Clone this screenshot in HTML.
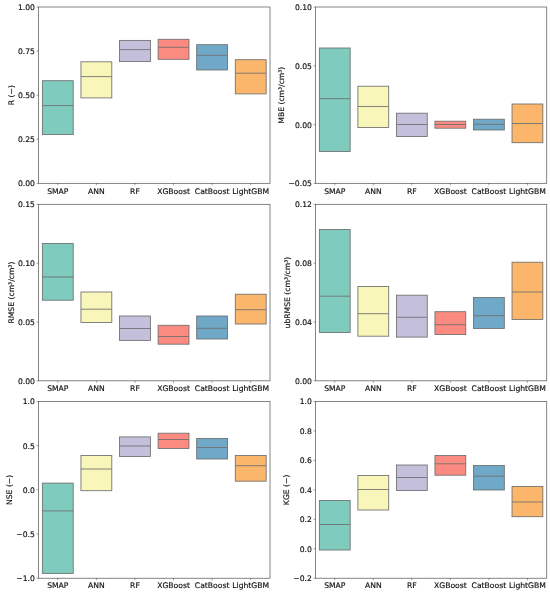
<!DOCTYPE html>
<html lang="en"><head><meta charset="utf-8"><title>Model comparison box plots</title>
<style>
html,body{margin:0;padding:0;background:#fff;}
body{width:550px;height:593px;overflow:hidden;}
svg{display:block;}
text{white-space:pre;stroke:#111;stroke-width:0.16px;}
</style></head><body>
<svg width="550" height="593" viewBox="0 0 550 593" font-family='"DejaVu Sans", "Liberation Sans", sans-serif' font-size="7.65" fill="#111">
<rect width="550" height="593" fill="#fff" stroke="none"/>
<g>
<rect x="42.36" y="80.70" width="30.87" height="53.90" fill="#7fcbbd" stroke="#6e6e6e" stroke-width="0.85"/>
<line x1="42.36" x2="73.23" y1="105.60" y2="105.60" stroke="#6e6e6e" stroke-width="0.85"/>
<rect x="80.94" y="61.80" width="30.87" height="36.10" fill="#f8f6b8" stroke="#6e6e6e" stroke-width="0.85"/>
<line x1="80.94" x2="111.81" y1="76.60" y2="76.60" stroke="#6e6e6e" stroke-width="0.85"/>
<rect x="119.53" y="40.40" width="30.87" height="21.20" fill="#c4c0db" stroke="#6e6e6e" stroke-width="0.85"/>
<line x1="119.53" x2="150.39" y1="49.60" y2="49.60" stroke="#6e6e6e" stroke-width="0.85"/>
<rect x="158.11" y="39.30" width="30.87" height="20.00" fill="#fb8b80" stroke="#6e6e6e" stroke-width="0.85"/>
<line x1="158.11" x2="188.98" y1="47.30" y2="47.30" stroke="#6e6e6e" stroke-width="0.85"/>
<rect x="196.69" y="44.70" width="30.87" height="25.30" fill="#70a9c7" stroke="#6e6e6e" stroke-width="0.85"/>
<line x1="196.69" x2="227.56" y1="55.30" y2="55.30" stroke="#6e6e6e" stroke-width="0.85"/>
<rect x="235.28" y="59.70" width="30.87" height="34.20" fill="#fbb66c" stroke="#6e6e6e" stroke-width="0.85"/>
<line x1="235.28" x2="266.14" y1="73.20" y2="73.20" stroke="#6e6e6e" stroke-width="0.85"/>
<rect x="38.50" y="7.00" width="231.50" height="176.35" fill="none" stroke="#000" stroke-opacity="0.6" stroke-width="0.8"/>
<line x1="57.79" x2="57.79" y1="183.35" y2="185.35" stroke="#000" stroke-opacity="0.6" stroke-width="0.6"/>
<text x="57.79" y="193.60" text-anchor="middle">SMAP</text>
<line x1="96.38" x2="96.38" y1="183.35" y2="185.35" stroke="#000" stroke-opacity="0.6" stroke-width="0.6"/>
<text x="96.38" y="193.60" text-anchor="middle">ANN</text>
<line x1="134.96" x2="134.96" y1="183.35" y2="185.35" stroke="#000" stroke-opacity="0.6" stroke-width="0.6"/>
<text x="134.96" y="193.60" text-anchor="middle">RF</text>
<line x1="173.54" x2="173.54" y1="183.35" y2="185.35" stroke="#000" stroke-opacity="0.6" stroke-width="0.6"/>
<text x="173.54" y="193.60" text-anchor="middle">XGBoost</text>
<line x1="212.12" x2="212.12" y1="183.35" y2="185.35" stroke="#000" stroke-opacity="0.6" stroke-width="0.6"/>
<text x="212.12" y="193.60" text-anchor="middle">CatBoost</text>
<line x1="250.71" x2="250.71" y1="183.35" y2="185.35" stroke="#000" stroke-opacity="0.6" stroke-width="0.6"/>
<text x="250.71" y="193.60" text-anchor="middle">LightGBM</text>
<line x1="36.50" x2="38.50" y1="183.35" y2="183.35" stroke="#000" stroke-opacity="0.6" stroke-width="0.6"/>
<text x="34.90" y="186.30" text-anchor="end">0.00</text>
<line x1="36.50" x2="38.50" y1="139.26" y2="139.26" stroke="#000" stroke-opacity="0.6" stroke-width="0.6"/>
<text x="34.90" y="142.21" text-anchor="end">0.25</text>
<line x1="36.50" x2="38.50" y1="95.17" y2="95.17" stroke="#000" stroke-opacity="0.6" stroke-width="0.6"/>
<text x="34.90" y="98.12" text-anchor="end">0.50</text>
<line x1="36.50" x2="38.50" y1="51.09" y2="51.09" stroke="#000" stroke-opacity="0.6" stroke-width="0.6"/>
<text x="34.90" y="54.04" text-anchor="end">0.75</text>
<line x1="36.50" x2="38.50" y1="7.00" y2="7.00" stroke="#000" stroke-opacity="0.6" stroke-width="0.6"/>
<text x="34.90" y="9.95" text-anchor="end">1.00</text>
<text transform="translate(13.80,95.17) rotate(-90)" text-anchor="middle">R (−)</text>
</g>
<g>
<rect x="319.35" y="48.00" width="30.83" height="103.50" fill="#7fcbbd" stroke="#6e6e6e" stroke-width="0.85"/>
<line x1="319.35" x2="350.18" y1="98.70" y2="98.70" stroke="#6e6e6e" stroke-width="0.85"/>
<rect x="357.89" y="86.20" width="30.83" height="41.30" fill="#f8f6b8" stroke="#6e6e6e" stroke-width="0.85"/>
<line x1="357.89" x2="388.71" y1="106.50" y2="106.50" stroke="#6e6e6e" stroke-width="0.85"/>
<rect x="396.42" y="113.20" width="30.83" height="23.30" fill="#c4c0db" stroke="#6e6e6e" stroke-width="0.85"/>
<line x1="396.42" x2="427.25" y1="124.50" y2="124.50" stroke="#6e6e6e" stroke-width="0.85"/>
<rect x="434.95" y="121.20" width="30.83" height="7.00" fill="#fb8b80" stroke="#6e6e6e" stroke-width="0.85"/>
<line x1="434.95" x2="465.78" y1="124.50" y2="124.50" stroke="#6e6e6e" stroke-width="0.85"/>
<rect x="473.49" y="119.20" width="30.83" height="10.80" fill="#70a9c7" stroke="#6e6e6e" stroke-width="0.85"/>
<line x1="473.49" x2="504.31" y1="124.30" y2="124.30" stroke="#6e6e6e" stroke-width="0.85"/>
<rect x="512.02" y="104.00" width="30.83" height="38.70" fill="#fbb66c" stroke="#6e6e6e" stroke-width="0.85"/>
<line x1="512.02" x2="542.85" y1="123.50" y2="123.50" stroke="#6e6e6e" stroke-width="0.85"/>
<rect x="315.50" y="7.00" width="231.20" height="176.35" fill="none" stroke="#000" stroke-opacity="0.6" stroke-width="0.8"/>
<line x1="334.77" x2="334.77" y1="183.35" y2="185.35" stroke="#000" stroke-opacity="0.6" stroke-width="0.6"/>
<text x="334.77" y="193.60" text-anchor="middle">SMAP</text>
<line x1="373.30" x2="373.30" y1="183.35" y2="185.35" stroke="#000" stroke-opacity="0.6" stroke-width="0.6"/>
<text x="373.30" y="193.60" text-anchor="middle">ANN</text>
<line x1="411.83" x2="411.83" y1="183.35" y2="185.35" stroke="#000" stroke-opacity="0.6" stroke-width="0.6"/>
<text x="411.83" y="193.60" text-anchor="middle">RF</text>
<line x1="450.37" x2="450.37" y1="183.35" y2="185.35" stroke="#000" stroke-opacity="0.6" stroke-width="0.6"/>
<text x="450.37" y="193.60" text-anchor="middle">XGBoost</text>
<line x1="488.90" x2="488.90" y1="183.35" y2="185.35" stroke="#000" stroke-opacity="0.6" stroke-width="0.6"/>
<text x="488.90" y="193.60" text-anchor="middle">CatBoost</text>
<line x1="527.43" x2="527.43" y1="183.35" y2="185.35" stroke="#000" stroke-opacity="0.6" stroke-width="0.6"/>
<text x="527.43" y="193.60" text-anchor="middle">LightGBM</text>
<line x1="313.50" x2="315.50" y1="183.35" y2="183.35" stroke="#000" stroke-opacity="0.6" stroke-width="0.6"/>
<text x="311.90" y="186.30" text-anchor="end">−0.05</text>
<line x1="313.50" x2="315.50" y1="124.57" y2="124.57" stroke="#000" stroke-opacity="0.6" stroke-width="0.6"/>
<text x="311.90" y="127.52" text-anchor="end">0.00</text>
<line x1="313.50" x2="315.50" y1="65.78" y2="65.78" stroke="#000" stroke-opacity="0.6" stroke-width="0.6"/>
<text x="311.90" y="68.73" text-anchor="end">0.05</text>
<line x1="313.50" x2="315.50" y1="7.00" y2="7.00" stroke="#000" stroke-opacity="0.6" stroke-width="0.6"/>
<text x="311.90" y="9.95" text-anchor="end">0.10</text>
<text transform="translate(284.30,95.17) rotate(-90)" text-anchor="middle">MBE (cm³/cm³)</text>
</g>
<g>
<rect x="42.36" y="243.50" width="30.87" height="56.70" fill="#7fcbbd" stroke="#6e6e6e" stroke-width="0.85"/>
<line x1="42.36" x2="73.23" y1="277.00" y2="277.00" stroke="#6e6e6e" stroke-width="0.85"/>
<rect x="80.94" y="292.00" width="30.87" height="30.50" fill="#f8f6b8" stroke="#6e6e6e" stroke-width="0.85"/>
<line x1="80.94" x2="111.81" y1="309.20" y2="309.20" stroke="#6e6e6e" stroke-width="0.85"/>
<rect x="119.53" y="316.00" width="30.87" height="24.40" fill="#c4c0db" stroke="#6e6e6e" stroke-width="0.85"/>
<line x1="119.53" x2="150.39" y1="328.50" y2="328.50" stroke="#6e6e6e" stroke-width="0.85"/>
<rect x="158.11" y="325.30" width="30.87" height="18.90" fill="#fb8b80" stroke="#6e6e6e" stroke-width="0.85"/>
<line x1="158.11" x2="188.98" y1="336.50" y2="336.50" stroke="#6e6e6e" stroke-width="0.85"/>
<rect x="196.69" y="316.00" width="30.87" height="23.00" fill="#70a9c7" stroke="#6e6e6e" stroke-width="0.85"/>
<line x1="196.69" x2="227.56" y1="328.30" y2="328.30" stroke="#6e6e6e" stroke-width="0.85"/>
<rect x="235.28" y="294.20" width="30.87" height="29.80" fill="#fbb66c" stroke="#6e6e6e" stroke-width="0.85"/>
<line x1="235.28" x2="266.14" y1="309.70" y2="309.70" stroke="#6e6e6e" stroke-width="0.85"/>
<rect x="38.50" y="204.35" width="231.50" height="176.45" fill="none" stroke="#000" stroke-opacity="0.6" stroke-width="0.8"/>
<line x1="57.79" x2="57.79" y1="380.80" y2="382.80" stroke="#000" stroke-opacity="0.6" stroke-width="0.6"/>
<text x="57.79" y="391.00" text-anchor="middle">SMAP</text>
<line x1="96.38" x2="96.38" y1="380.80" y2="382.80" stroke="#000" stroke-opacity="0.6" stroke-width="0.6"/>
<text x="96.38" y="391.00" text-anchor="middle">ANN</text>
<line x1="134.96" x2="134.96" y1="380.80" y2="382.80" stroke="#000" stroke-opacity="0.6" stroke-width="0.6"/>
<text x="134.96" y="391.00" text-anchor="middle">RF</text>
<line x1="173.54" x2="173.54" y1="380.80" y2="382.80" stroke="#000" stroke-opacity="0.6" stroke-width="0.6"/>
<text x="173.54" y="391.00" text-anchor="middle">XGBoost</text>
<line x1="212.12" x2="212.12" y1="380.80" y2="382.80" stroke="#000" stroke-opacity="0.6" stroke-width="0.6"/>
<text x="212.12" y="391.00" text-anchor="middle">CatBoost</text>
<line x1="250.71" x2="250.71" y1="380.80" y2="382.80" stroke="#000" stroke-opacity="0.6" stroke-width="0.6"/>
<text x="250.71" y="391.00" text-anchor="middle">LightGBM</text>
<line x1="36.50" x2="38.50" y1="380.80" y2="380.80" stroke="#000" stroke-opacity="0.6" stroke-width="0.6"/>
<text x="34.90" y="383.75" text-anchor="end">0.00</text>
<line x1="36.50" x2="38.50" y1="321.98" y2="321.98" stroke="#000" stroke-opacity="0.6" stroke-width="0.6"/>
<text x="34.90" y="324.93" text-anchor="end">0.05</text>
<line x1="36.50" x2="38.50" y1="263.17" y2="263.17" stroke="#000" stroke-opacity="0.6" stroke-width="0.6"/>
<text x="34.90" y="266.12" text-anchor="end">0.10</text>
<line x1="36.50" x2="38.50" y1="204.35" y2="204.35" stroke="#000" stroke-opacity="0.6" stroke-width="0.6"/>
<text x="34.90" y="207.30" text-anchor="end">0.15</text>
<text transform="translate(13.80,292.57) rotate(-90)" text-anchor="middle">RMSE (cm³/cm³)</text>
</g>
<g>
<rect x="319.35" y="229.50" width="30.83" height="103.00" fill="#7fcbbd" stroke="#6e6e6e" stroke-width="0.85"/>
<line x1="319.35" x2="350.18" y1="296.20" y2="296.20" stroke="#6e6e6e" stroke-width="0.85"/>
<rect x="357.89" y="286.50" width="30.83" height="49.70" fill="#f8f6b8" stroke="#6e6e6e" stroke-width="0.85"/>
<line x1="357.89" x2="388.71" y1="313.70" y2="313.70" stroke="#6e6e6e" stroke-width="0.85"/>
<rect x="396.42" y="295.20" width="30.83" height="41.90" fill="#c4c0db" stroke="#6e6e6e" stroke-width="0.85"/>
<line x1="396.42" x2="427.25" y1="317.30" y2="317.30" stroke="#6e6e6e" stroke-width="0.85"/>
<rect x="434.95" y="311.70" width="30.83" height="22.80" fill="#fb8b80" stroke="#6e6e6e" stroke-width="0.85"/>
<line x1="434.95" x2="465.78" y1="324.70" y2="324.70" stroke="#6e6e6e" stroke-width="0.85"/>
<rect x="473.49" y="297.50" width="30.83" height="31.00" fill="#70a9c7" stroke="#6e6e6e" stroke-width="0.85"/>
<line x1="473.49" x2="504.31" y1="315.70" y2="315.70" stroke="#6e6e6e" stroke-width="0.85"/>
<rect x="512.02" y="262.20" width="30.83" height="57.30" fill="#fbb66c" stroke="#6e6e6e" stroke-width="0.85"/>
<line x1="512.02" x2="542.85" y1="292.00" y2="292.00" stroke="#6e6e6e" stroke-width="0.85"/>
<rect x="315.50" y="204.35" width="231.20" height="176.45" fill="none" stroke="#000" stroke-opacity="0.6" stroke-width="0.8"/>
<line x1="334.77" x2="334.77" y1="380.80" y2="382.80" stroke="#000" stroke-opacity="0.6" stroke-width="0.6"/>
<text x="334.77" y="391.00" text-anchor="middle">SMAP</text>
<line x1="373.30" x2="373.30" y1="380.80" y2="382.80" stroke="#000" stroke-opacity="0.6" stroke-width="0.6"/>
<text x="373.30" y="391.00" text-anchor="middle">ANN</text>
<line x1="411.83" x2="411.83" y1="380.80" y2="382.80" stroke="#000" stroke-opacity="0.6" stroke-width="0.6"/>
<text x="411.83" y="391.00" text-anchor="middle">RF</text>
<line x1="450.37" x2="450.37" y1="380.80" y2="382.80" stroke="#000" stroke-opacity="0.6" stroke-width="0.6"/>
<text x="450.37" y="391.00" text-anchor="middle">XGBoost</text>
<line x1="488.90" x2="488.90" y1="380.80" y2="382.80" stroke="#000" stroke-opacity="0.6" stroke-width="0.6"/>
<text x="488.90" y="391.00" text-anchor="middle">CatBoost</text>
<line x1="527.43" x2="527.43" y1="380.80" y2="382.80" stroke="#000" stroke-opacity="0.6" stroke-width="0.6"/>
<text x="527.43" y="391.00" text-anchor="middle">LightGBM</text>
<line x1="313.50" x2="315.50" y1="380.80" y2="380.80" stroke="#000" stroke-opacity="0.6" stroke-width="0.6"/>
<text x="311.90" y="383.75" text-anchor="end">0.00</text>
<line x1="313.50" x2="315.50" y1="321.98" y2="321.98" stroke="#000" stroke-opacity="0.6" stroke-width="0.6"/>
<text x="311.90" y="324.93" text-anchor="end">0.04</text>
<line x1="313.50" x2="315.50" y1="263.17" y2="263.17" stroke="#000" stroke-opacity="0.6" stroke-width="0.6"/>
<text x="311.90" y="266.12" text-anchor="end">0.08</text>
<line x1="313.50" x2="315.50" y1="204.35" y2="204.35" stroke="#000" stroke-opacity="0.6" stroke-width="0.6"/>
<text x="311.90" y="207.30" text-anchor="end">0.12</text>
<text transform="translate(290.20,292.57) rotate(-90)" text-anchor="middle">ubRMSE (cm³/cm³)</text>
</g>
<g>
<rect x="42.36" y="483.10" width="30.87" height="90.30" fill="#7fcbbd" stroke="#6e6e6e" stroke-width="0.85"/>
<line x1="42.36" x2="73.23" y1="510.90" y2="510.90" stroke="#6e6e6e" stroke-width="0.85"/>
<rect x="80.94" y="455.50" width="30.87" height="35.20" fill="#f8f6b8" stroke="#6e6e6e" stroke-width="0.85"/>
<line x1="80.94" x2="111.81" y1="469.00" y2="469.00" stroke="#6e6e6e" stroke-width="0.85"/>
<rect x="119.53" y="436.90" width="30.87" height="19.60" fill="#c4c0db" stroke="#6e6e6e" stroke-width="0.85"/>
<line x1="119.53" x2="150.39" y1="446.00" y2="446.00" stroke="#6e6e6e" stroke-width="0.85"/>
<rect x="158.11" y="433.20" width="30.87" height="15.30" fill="#fb8b80" stroke="#6e6e6e" stroke-width="0.85"/>
<line x1="158.11" x2="188.98" y1="439.50" y2="439.50" stroke="#6e6e6e" stroke-width="0.85"/>
<rect x="196.69" y="438.50" width="30.87" height="20.50" fill="#70a9c7" stroke="#6e6e6e" stroke-width="0.85"/>
<line x1="196.69" x2="227.56" y1="447.50" y2="447.50" stroke="#6e6e6e" stroke-width="0.85"/>
<rect x="235.28" y="455.50" width="30.87" height="25.70" fill="#fbb66c" stroke="#6e6e6e" stroke-width="0.85"/>
<line x1="235.28" x2="266.14" y1="465.70" y2="465.70" stroke="#6e6e6e" stroke-width="0.85"/>
<rect x="38.50" y="401.45" width="231.50" height="176.80" fill="none" stroke="#000" stroke-opacity="0.6" stroke-width="0.8"/>
<line x1="57.79" x2="57.79" y1="578.25" y2="580.25" stroke="#000" stroke-opacity="0.6" stroke-width="0.6"/>
<text x="57.79" y="587.80" text-anchor="middle">SMAP</text>
<line x1="96.38" x2="96.38" y1="578.25" y2="580.25" stroke="#000" stroke-opacity="0.6" stroke-width="0.6"/>
<text x="96.38" y="587.80" text-anchor="middle">ANN</text>
<line x1="134.96" x2="134.96" y1="578.25" y2="580.25" stroke="#000" stroke-opacity="0.6" stroke-width="0.6"/>
<text x="134.96" y="587.80" text-anchor="middle">RF</text>
<line x1="173.54" x2="173.54" y1="578.25" y2="580.25" stroke="#000" stroke-opacity="0.6" stroke-width="0.6"/>
<text x="173.54" y="587.80" text-anchor="middle">XGBoost</text>
<line x1="212.12" x2="212.12" y1="578.25" y2="580.25" stroke="#000" stroke-opacity="0.6" stroke-width="0.6"/>
<text x="212.12" y="587.80" text-anchor="middle">CatBoost</text>
<line x1="250.71" x2="250.71" y1="578.25" y2="580.25" stroke="#000" stroke-opacity="0.6" stroke-width="0.6"/>
<text x="250.71" y="587.80" text-anchor="middle">LightGBM</text>
<line x1="36.50" x2="38.50" y1="578.25" y2="578.25" stroke="#000" stroke-opacity="0.6" stroke-width="0.6"/>
<text x="34.90" y="581.20" text-anchor="end">−1.0</text>
<line x1="36.50" x2="38.50" y1="534.05" y2="534.05" stroke="#000" stroke-opacity="0.6" stroke-width="0.6"/>
<text x="34.90" y="537.00" text-anchor="end">−0.5</text>
<line x1="36.50" x2="38.50" y1="489.85" y2="489.85" stroke="#000" stroke-opacity="0.6" stroke-width="0.6"/>
<text x="34.90" y="492.80" text-anchor="end">0.0</text>
<line x1="36.50" x2="38.50" y1="445.65" y2="445.65" stroke="#000" stroke-opacity="0.6" stroke-width="0.6"/>
<text x="34.90" y="448.60" text-anchor="end">0.5</text>
<line x1="36.50" x2="38.50" y1="401.45" y2="401.45" stroke="#000" stroke-opacity="0.6" stroke-width="0.6"/>
<text x="34.90" y="404.40" text-anchor="end">1.0</text>
<text transform="translate(12.40,489.85) rotate(-90)" text-anchor="middle">NSE (−)</text>
</g>
<g>
<rect x="319.35" y="500.50" width="30.83" height="49.50" fill="#7fcbbd" stroke="#6e6e6e" stroke-width="0.85"/>
<line x1="319.35" x2="350.18" y1="524.50" y2="524.50" stroke="#6e6e6e" stroke-width="0.85"/>
<rect x="357.89" y="475.50" width="30.83" height="34.50" fill="#f8f6b8" stroke="#6e6e6e" stroke-width="0.85"/>
<line x1="357.89" x2="388.71" y1="489.50" y2="489.50" stroke="#6e6e6e" stroke-width="0.85"/>
<rect x="396.42" y="465.00" width="30.83" height="25.50" fill="#c4c0db" stroke="#6e6e6e" stroke-width="0.85"/>
<line x1="396.42" x2="427.25" y1="477.50" y2="477.50" stroke="#6e6e6e" stroke-width="0.85"/>
<rect x="434.95" y="455.50" width="30.83" height="19.70" fill="#fb8b80" stroke="#6e6e6e" stroke-width="0.85"/>
<line x1="434.95" x2="465.78" y1="463.80" y2="463.80" stroke="#6e6e6e" stroke-width="0.85"/>
<rect x="473.49" y="465.50" width="30.83" height="24.50" fill="#70a9c7" stroke="#6e6e6e" stroke-width="0.85"/>
<line x1="473.49" x2="504.31" y1="476.20" y2="476.20" stroke="#6e6e6e" stroke-width="0.85"/>
<rect x="512.02" y="486.50" width="30.83" height="30.20" fill="#fbb66c" stroke="#6e6e6e" stroke-width="0.85"/>
<line x1="512.02" x2="542.85" y1="502.00" y2="502.00" stroke="#6e6e6e" stroke-width="0.85"/>
<rect x="315.50" y="401.45" width="231.20" height="176.80" fill="none" stroke="#000" stroke-opacity="0.6" stroke-width="0.8"/>
<line x1="334.77" x2="334.77" y1="578.25" y2="580.25" stroke="#000" stroke-opacity="0.6" stroke-width="0.6"/>
<text x="334.77" y="587.80" text-anchor="middle">SMAP</text>
<line x1="373.30" x2="373.30" y1="578.25" y2="580.25" stroke="#000" stroke-opacity="0.6" stroke-width="0.6"/>
<text x="373.30" y="587.80" text-anchor="middle">ANN</text>
<line x1="411.83" x2="411.83" y1="578.25" y2="580.25" stroke="#000" stroke-opacity="0.6" stroke-width="0.6"/>
<text x="411.83" y="587.80" text-anchor="middle">RF</text>
<line x1="450.37" x2="450.37" y1="578.25" y2="580.25" stroke="#000" stroke-opacity="0.6" stroke-width="0.6"/>
<text x="450.37" y="587.80" text-anchor="middle">XGBoost</text>
<line x1="488.90" x2="488.90" y1="578.25" y2="580.25" stroke="#000" stroke-opacity="0.6" stroke-width="0.6"/>
<text x="488.90" y="587.80" text-anchor="middle">CatBoost</text>
<line x1="527.43" x2="527.43" y1="578.25" y2="580.25" stroke="#000" stroke-opacity="0.6" stroke-width="0.6"/>
<text x="527.43" y="587.80" text-anchor="middle">LightGBM</text>
<line x1="313.50" x2="315.50" y1="578.25" y2="578.25" stroke="#000" stroke-opacity="0.6" stroke-width="0.6"/>
<text x="311.90" y="581.20" text-anchor="end">−0.2</text>
<line x1="313.50" x2="315.50" y1="548.78" y2="548.78" stroke="#000" stroke-opacity="0.6" stroke-width="0.6"/>
<text x="311.90" y="551.73" text-anchor="end">0.0</text>
<line x1="313.50" x2="315.50" y1="519.32" y2="519.32" stroke="#000" stroke-opacity="0.6" stroke-width="0.6"/>
<text x="311.90" y="522.27" text-anchor="end">0.2</text>
<line x1="313.50" x2="315.50" y1="489.85" y2="489.85" stroke="#000" stroke-opacity="0.6" stroke-width="0.6"/>
<text x="311.90" y="492.80" text-anchor="end">0.4</text>
<line x1="313.50" x2="315.50" y1="460.38" y2="460.38" stroke="#000" stroke-opacity="0.6" stroke-width="0.6"/>
<text x="311.90" y="463.33" text-anchor="end">0.6</text>
<line x1="313.50" x2="315.50" y1="430.92" y2="430.92" stroke="#000" stroke-opacity="0.6" stroke-width="0.6"/>
<text x="311.90" y="433.87" text-anchor="end">0.8</text>
<line x1="313.50" x2="315.50" y1="401.45" y2="401.45" stroke="#000" stroke-opacity="0.6" stroke-width="0.6"/>
<text x="311.90" y="404.40" text-anchor="end">1.0</text>
<text transform="translate(289.20,489.85) rotate(-90)" text-anchor="middle">KGE (−)</text>
</g>
</svg>
</body></html>
